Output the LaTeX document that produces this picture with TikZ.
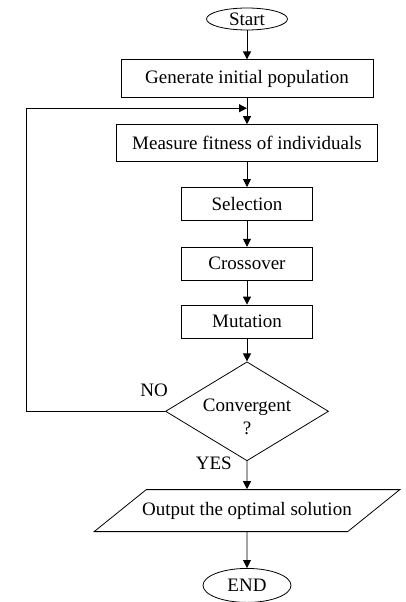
\documentclass[tikz,border=0pt]{standalone}
\usepackage{fontspec}
\setmainfont{Liberation Serif}
\usetikzlibrary{positioning,arrows.meta,shapes.geometric}
\tikzset{
  term/.style={draw,ellipse,line width=0.8pt,inner sep=0pt},
  proc/.style={draw,rectangle,line width=0.8pt,inner sep=0pt,minimum height=33pt},
  decide/.style={draw,diamond,line width=0.8pt,inner sep=0pt,minimum width=163pt,minimum height=99pt},
  io/.style={draw,trapezium,trapezium left angle=20,trapezium right angle=160,trapezium stretches=true,
            line width=0.8pt,inner sep=0pt,minimum width=307pt,minimum height=42pt},
  lbl/.style={inner sep=1pt},
  flow/.style={-{Triangle[length=8pt,width=8pt]},line width=0.8pt},
}
\begin{document}
\begin{tikzpicture}[node distance=25pt,every node/.style={font=\fontsize{19}{23}\selectfont}]
  \useasboundingbox (0,0) rectangle (405pt,-602pt);
  \node[term,minimum width=81pt,minimum height=22pt] (start) at (247pt,-19pt) {Start};
  \node[proc,minimum width=252pt,minimum height=38pt,below=29pt of start] (gen) {Generate initial population};
  \node[proc,minimum width=261pt,minimum height=37pt,below=26pt of gen] (fit) {Measure fitness of individuals};
  \node[proc,minimum width=131pt,below=of fit] (sel) {Selection};
  \node[proc,minimum width=131pt,below=26pt of sel] (cross) {Crossover};
  \node[proc,minimum width=131pt,below=24pt of cross] (mut) {Mutation};
  \node[decide,below=23pt of mut] (conv)
    {\raisebox{-11pt}[0pt][0pt]{\begin{tabular}{@{}c@{}}Convergent\\?\end{tabular}}};
  \node[io,below=28pt of conv] (out) {\makebox[183pt]{Output the optimal solution}};
  \node[term,minimum width=88pt,minimum height=34pt,below=36pt of out] (end) {END};
  % loop back joins the arrow under the first box
  \coordinate[below=10pt of gen.south] (join);
  \node[lbl,above left=13pt and -4pt of conv.west] (no) {NO};
  \node[lbl,below left=-5pt and 14pt of conv.south] (yes) {YES};
  \draw[flow] (start) -- (gen);
  \draw[flow] (gen) -- (fit);
  \draw[flow] (fit) -- (sel);
  \draw[flow] (sel) -- (cross);
  \draw[flow] (cross) -- (mut);
  \draw[flow] (mut) -- (conv);
  \draw[flow] (conv.west) -- ++(-139pt,0) |- (join);
  \draw[flow] (conv) -- (out);
  \draw[flow] (out) -- (end);
\end{tikzpicture}
\end{document}
